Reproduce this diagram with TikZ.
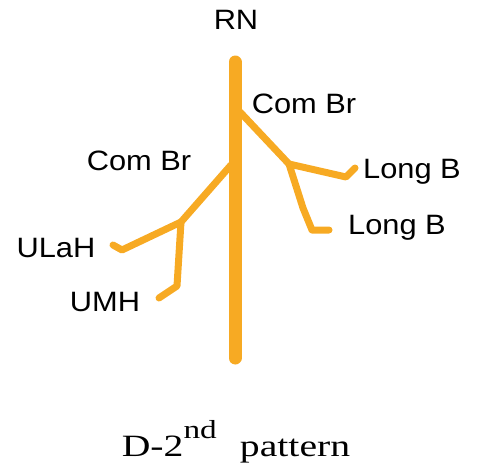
\documentclass[tikz,border=0pt]{standalone}
\usepackage{fontspec}
\setmainfont{Liberation Serif}
\setsansfont{Liberation Sans}
\definecolor{vessel}{RGB}{247,170,35}
\newcommand{\supnd}{\raisebox{0.55em}{\fontsize{26}{28}\selectfont nd}}
\tikzset{
 trunk/.style={draw=vessel,line width=13pt,line cap=round},
 branch/.style={draw=vessel,line width=7pt,line cap=round,line join=round},
 lbl/.style={font=\sffamily\fontsize{28}{32}\selectfont,inner sep=0,xscale=1.1},
 caption/.style={font=\rmfamily\fontsize{31}{35}\selectfont,inner sep=0,xscale=1.28}
}
\begin{document}
\begin{tikzpicture}[x=1pt,y=-1pt]
\path[use as bounding box] (0,0) rectangle (482,474);
\coordinate (top) at (235,62);
\coordinate (bot) at (235,358);
\coordinate (rjoin) at (240,112);
\coordinate (rfork) at (289,164);
\coordinate (ljoin) at (231,165);
\coordinate (lfork) at (181,222);
\coordinate (longa) at (355,168);
\coordinate (longb) at (329,230);
\coordinate (ulah) at (113,245);
\coordinate (umh) at (159,298);
\draw[trunk] (top) -- (bot);
\draw[branch] (rjoin) -- (rfork) -- (346,177) -- (longa);
\draw[branch] (rfork) -- (303,208) -- (312,230) -- (longb);
\draw[branch] (ljoin) -- (lfork) -- (122,250) -- (ulah);
\draw[branch] (lfork) -- (177,286) -- (umh);
\node[lbl] (rn) at (236,20) {RN};
\node[lbl] (rcom) at (304,104) {Com Br};
\node[lbl] (lcom) at (139,161) {Com Br};
\node[lbl] (la) at (412,172) {Long B};
\node[lbl] (lb) at (397,228) {Long B};
\node[lbl] (ul) at (56,248) {ULaH};
\node[lbl] (um) at (105,302) {UMH};
\node[caption,anchor=base] (cap) at (236,456) {D-2\supnd\,\, pattern};
\end{tikzpicture}
\end{document}
